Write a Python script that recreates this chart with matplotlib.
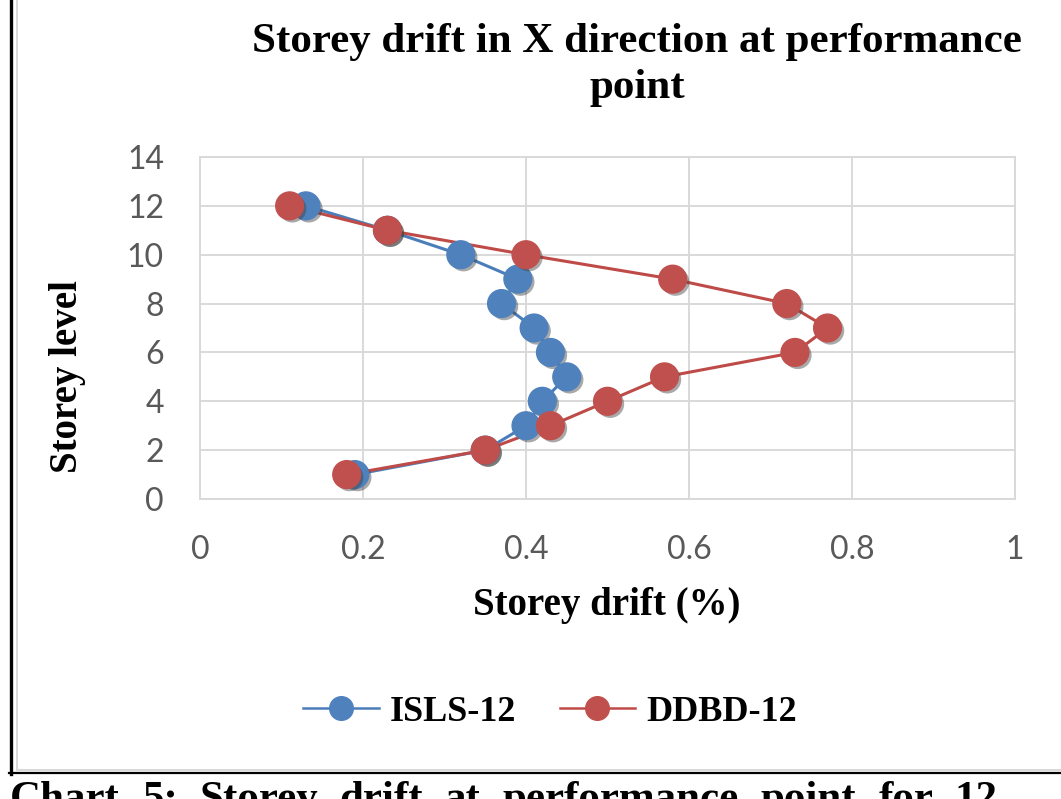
import numpy as np
import matplotlib
matplotlib.use("Agg")
import matplotlib.pyplot as plt
import matplotlib.patheffects as pe
from matplotlib.lines import Line2D

# storey levels and drift values (%)
levels = [12, 11, 10, 9, 8, 7, 6, 5, 4, 3, 2, 1]
isls_12 = [0.13, 0.23, 0.32, 0.39, 0.37, 0.41, 0.43, 0.45, 0.42, 0.40, 0.35, 0.19]
ddbd_12 = [0.11, 0.23, 0.40, 0.58, 0.72, 0.77, 0.73, 0.57, 0.50, 0.43, 0.35, 0.18]

x_ticks = [0, 0.2, 0.4, 0.6, 0.8, 1]
x_tick_labels = ["0", "0.2", "0.4", "0.6", "0.8", "1"]
y_ticks = [0, 2, 4, 6, 8, 10, 12, 14]

series_names = ["ISLS-12", "DDBD-12"]
caption_words = ["Chart", "5:", "Storey", "drift", "at", "performance", "point", "for", "12"]

W, H = 1061, 799
SERIF = "Liberation Serif"
TICK_FONT = "Lato"
GRID = "#D9D9D9"
BLUE_LINE, BLUE_MK = "#4A7EBB", "#4F81BD"
RED_LINE, RED_MK = "#BE4B48", "#C0504D"


def fx(px):
    return px / W


def fy(py):
    return 1 - py / H


fig = plt.figure(figsize=(W / 100, H / 100), dpi=100)
ax = fig.add_axes([fx(200), fy(499), fx(1015) - fx(200), fy(157) - fy(499)])

shadow = [pe.SimplePatchShadow(offset=(2, -2), shadow_rgbFace="0.25", alpha=0.45), pe.Normal()]

handles = []
for vals, name, lc, mc in [(isls_12, series_names[0], BLUE_LINE, BLUE_MK),
                           (ddbd_12, series_names[1], RED_LINE, RED_MK)]:
    ax.plot(vals, levels, "-", color=lc, lw=2.2, zorder=3)
    ax.plot(vals, levels, "o", ls="none", ms=20, mfc=mc, mec=mc, zorder=4,
            path_effects=shadow)
    handles.append(Line2D([], [], color=lc, lw=1.8, marker="o", ms=17, mfc=mc, mec=mc,
                          label=name))

ax.set_xlim(0, 1)
ax.set_ylim(0, 14)
ax.set_xticks(x_ticks)
ax.set_xticklabels(x_tick_labels)
ax.set_yticks(y_ticks)
ax.grid(True, color=GRID, lw=1.4)
ax.set_axisbelow(True)
for s in ax.spines.values():
    s.set_color(GRID)
    s.set_linewidth(1.4)
ax.tick_params(length=0, labelsize=23, labelcolor="#595959", pad=26)
for lab in ax.get_xticklabels() + ax.get_yticklabels():
    lab.set_fontfamily(TICK_FONT)

# titles and axis labels
fig.text(fx(637), fy(65), "Storey drift in X direction at performance\npoint",
         ha="center", va="center", fontsize=31, fontweight="bold", family=SERIF,
         linespacing=1.3)
fig.text(fx(67), fy(377), "Storey level", rotation=90, ha="center", va="center",
         fontsize=28, fontweight="bold", family=SERIF)
fig.text(fx(607), fy(606), "Storey drift (%)", ha="center", va="center",
         fontsize=28, fontweight="bold", family=SERIF)

leg = fig.legend(handles=handles, loc="center", bbox_to_anchor=(fx(550), fy(712)), ncol=2,
                 frameon=False, handlelength=2.1, handletextpad=0.3, columnspacing=1.2,
                 prop={"family": SERIF, "weight": "bold", "size": 26})

# page frame lines
fig.add_artist(Line2D([fx(10.5), fx(10.5)], [fy(0), fy(774)], transform=fig.transFigure,
                      color="black", lw=2.4))
fig.add_artist(Line2D([fx(17), fx(17)], [fy(0), fy(770)], transform=fig.transFigure,
                      color=GRID, lw=1.5))
fig.add_artist(Line2D([fx(17), fx(1061)], [fy(770), fy(770)], transform=fig.transFigure,
                      color=GRID, lw=1.5))
fig.add_artist(Line2D([fx(9), fx(1061)], [fy(773), fy(773)], transform=fig.transFigure,
                      color="black", lw=1.6))

# caption below the chart, justified between the page margins (cut by the page edge)
renderer = fig.canvas.get_renderer()
words = [fig.text(0, fy(781), w, ha="left", va="top", fontsize=31,
                  fontweight="bold", family=SERIF) for w in caption_words]
widths = [t.get_window_extent(renderer).width for t in words]
left, right = 10, 998
gap = (right - left - sum(widths)) / (len(words) - 1)
pos = left
for t, wd in zip(words, widths):
    t.set_x(fx(pos))
    pos += wd + gap

fig.savefig("out.png", dpi=100)
